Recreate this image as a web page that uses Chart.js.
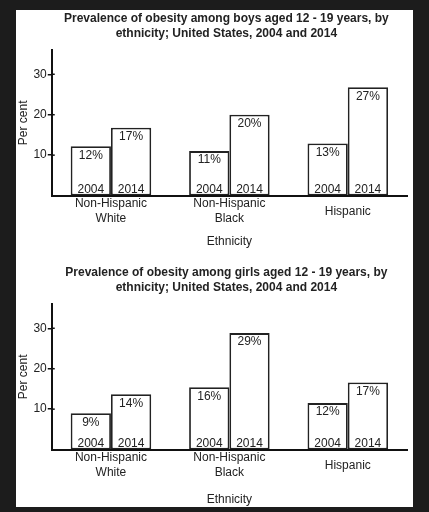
<!DOCTYPE html>
<html>
<head>
<meta charset="utf-8">
<script src="https://cdn.jsdelivr.net/npm/chart.js@4"></script>
<style>
  body { margin: 0; background: #1c1c1c; }
  #panel { position: absolute; left: 16px; top: 10px; width: 397px; height: 497px; background: #fff; }
  .box { position: absolute; left: 0; width: 397px; }
  #boxBoys { top: 0; height: 254px; }
  #boxGirls { top: 254px; height: 243px; }
</style>
</head>
<body>
<div id="panel">
  <div class="box" id="boxBoys"><canvas id="boys"></canvas></div>
  <div class="box" id="boxGirls"><canvas id="girls"></canvas></div>
</div>
<script>
const categories = [["Non-Hispanic", "White"], ["Non-Hispanic", "Black"], ["Hispanic"]];
const years = ["2004", "2014"];
const yTicks = [10, 20, 30];

const boys2004 = [12.2, 11, 12.9];
const boys2014 = [16.8, 20, 26.8];
const boysText2004 = ["12%", "11%", "13%"];
const boysText2014 = ["17%", "20%", "27%"];

const girls2004 = [9, 15.4, 11.5];
const girls2014 = [13.7, 28.8, 16.6];
const girlsText2004 = ["9%", "16%", "12%"];
const girlsText2014 = ["14%", "29%", "17%"];

const ink = "#222";
const font = "'Liberation Sans', Arial, sans-serif";
Chart.defaults.font.family = font;
Chart.defaults.color = ink;

// title over the plot, text inside the bars, category names under the axis
const barText = {
  id: "barText",
  afterDraw(chart) {
    const ctx = chart.ctx;
    const opts = chart.options.plugins.barText;
    const area = chart.chartArea;
    const y = chart.scales.y;
    ctx.save();
    ctx.fillStyle = ink;
    ctx.textAlign = "center";
    ctx.textBaseline = "middle";

    ctx.font = "bold 12px " + font;
    const tx = (area.left + area.right) / 2 - 3;
    ctx.fillText(opts.title[0], tx, 9);
    ctx.fillText(opts.title[1], tx, 24);

    // tick marks poke a little through the axis
    ctx.strokeStyle = "#111";
    ctx.lineWidth = 1.5;
    yTicks.forEach((v) => {
      const py = y.getPixelForValue(v);
      ctx.beginPath();
      ctx.moveTo(area.left, py);
      ctx.lineTo(area.left + 3, py);
      ctx.stroke();
    });

    ctx.font = "12px " + font;
    chart.data.datasets.forEach((ds, d) => {
      chart.getDatasetMeta(d).data.forEach((bar, i) => {
        ctx.fillText(opts.texts[d][i], bar.x, bar.y + 9);
        ctx.fillText(ds.label, bar.x, bar.base - 6);
      });
    });
    const x = chart.scales.x;
    const base = y.getPixelForValue(0);
    categories.forEach((lines, i) => {
      const cx = x.getPixelForValue(i);
      if (lines.length == 1) {
        ctx.fillText(lines[0], cx, base + 16);
      } else {
        ctx.fillText(lines[0], cx, base + 8);
        ctx.fillText(lines[1], cx, base + 23);
      }
    });
    ctx.restore();
  },
};

const chart = (id, title, v2004, v2014, t2004, t2014, xPad, bottomPad) => {
  const bar = {
    backgroundColor: "#fff",
    borderColor: "#222",
    borderWidth: 1.8,
    borderSkipped: false,
    categoryPercentage: 0.68,
    barPercentage: 1,
  };
  const data = {
    labels: categories.map((c) => c.join(" ")),
    datasets: [
      { label: years[0], data: v2004, ...bar },
      { label: years[1], data: v2014, ...bar },
    ],
  };

  const config = {
    type: "bar",
    data: data,
    options: {
      animation: false,
      responsive: true,
      maintainAspectRatio: false,
      layout: { padding: { left: 0, right: 6, top: 40, bottom: bottomPad } },
      plugins: {
        legend: { display: false },
        tooltip: { enabled: false },
        title: { display: false },
        barText: { title: title, texts: [t2004, t2014] },
      },
      scales: {
        x: {
          grid: { display: false, drawTicks: false },
          border: { display: true, color: "#111", width: 2 },
          ticks: { display: false },
          title: {
            display: true,
            text: "Ethnicity",
            font: { size: 12 },
            padding: { top: xPad, bottom: 0 },
          },
        },
        y: {
          min: 0,
          max: 36,
          afterBuildTicks: (scale) => {
            scale.ticks = yTicks.map((v) => ({ value: v }));
          },
          grid: { drawOnChartArea: false, tickLength: 4, color: "#111", lineWidth: 1.5 },
          border: { display: true, color: "#111", width: 2 },
          ticks: { font: { size: 12 }, padding: 1 },
          title: {
            display: true,
            text: "Per cent",
            font: { size: 12 },
            padding: { top: 0, bottom: 2 },
          },
        },
      },
    },
    plugins: [barText],
  };

  const canvas = document.getElementById(id);
  return new Chart(canvas, config);
};

chart("boys",
  ["Prevalence of obesity among boys aged 12 - 19 years, by", "ethnicity; United States, 2004 and 2014"],
  boys2004, boys2014, boysText2004, boysText2014, 39, 15);
chart("girls",
  ["Prevalence of obesity among girls aged 12 - 19 years, by", "ethnicity; United States, 2004 and 2014"],
  girls2004, girls2014, girlsText2004, girlsText2014, 43, 0);
</script>
</body>
</html>
